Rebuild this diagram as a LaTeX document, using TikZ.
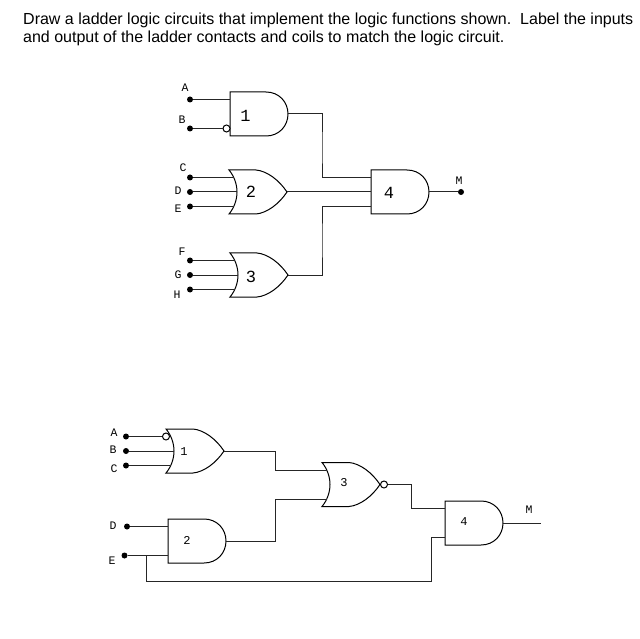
\documentclass[tikz,border=0pt]{standalone}
\usepackage{fontspec}
\setmainfont{Liberation Sans}
\setmonofont{Liberation Mono}
\tikzset{
  wire/.style={draw=black!85, line width=1pt},
  every edge/.style={wire},
  gateline/.style={draw=black, line width=1pt},
  andgate/.pic={
    \draw[gateline] (0,-22) -- (36,-22) .. controls (49,-22) and (58,-12) .. (58,0)
      .. controls (58,12) and (49,22) .. (36,22) -- (0,22) -- cycle;
    \coordinate (-i1) at (0,-14.5);
    \coordinate (-i2) at (0,0);
    \coordinate (-i3) at (0,14.5);
    \coordinate (-o) at (58,0);
  },
  orgate/.pic={
    \draw[gateline] (0,-22) -- (27,-22) .. controls (38,-21) and (50,-12) .. (58,0)
      .. controls (50,12) and (38,21) .. (27,22) -- (0,22)
      .. controls (5,16) and (8,8) .. (8,0) .. controls (8,-8) and (5,-16) .. (0,-22) -- cycle;
    \coordinate (-i1) at (5,-14.5);
    \coordinate (-i2) at (8,0);
    \coordinate (-i3) at (5,14.5);
    \coordinate (-o) at (58,0);
  }
}
\begin{document}
\begin{tikzpicture}[x=1pt,y=-1pt]
      \useasboundingbox (0,0) rectangle (640,639);

      \node[anchor=north west, inner sep=0pt, align=left, font=\fontsize{16}{17.8}\selectfont] (title) at (23,13)
        {Draw a ladder logic circuits that implement the logic functions shown.\ \ Label the inputs\\
         and output of the ladder contacts and coils to match the logic circuit.};

      % upper circuit
      \pic (u1) at (230,114) {andgate};
      \pic (u2) at (229,192) {orgate};
      \pic (u3) at (230,275) {orgate};
      \pic (u4) at (371,192) {andgate};

      % lower circuit
      \pic (l1) at (166,451) {orgate};
      \pic (l2) at (168,541) {andgate};
      \pic (l3) at (322,484.5) {orgate};
      \pic (l4) at (445,523) {andgate};

      \begin{scope}[every node/.style={circle,fill=black,inner sep=0pt,minimum size=6pt}]
        \node (ua) at (190,99.5) {};
        \node (ub) at (190,128.5) {};
        \node (uc) at (190,177.5) {};
        \node (ud) at (190,192) {};
        \node (ue) at (190,206.5) {};
        \node (uf) at (190,260.5) {};
        \node (ug) at (190,275) {};
        \node (uh) at (190,289.5) {};
        \node (um) at (461,192) {};
        \node (la) at (126,436.5) {};
        \node (lb) at (126,451) {};
        \node (lc) at (126,465.5) {};
        \node (ld) at (127,526.5) {};
        \node (le) at (124.5,555.5) {};
      \end{scope}

      \begin{scope}[every node/.style={circle,draw=black,fill=white,line width=1pt,inner sep=0pt,minimum size=7pt}]
        \node (nb) at (226.5,128.5) {};
        \node (na) at (166,436.5) {};
        \node (n3) at (384,484.5) {};
      \end{scope}

      \coordinate (bus1) at (322,150);
      \coordinate (bus2) at (322,240);
      \coordinate (bus3) at (275.5,460);
      \coordinate (bus4) at (275.5,520);
      \coordinate (bus5) at (411.7,495);
      \coordinate (lm) at (541,523);
      \coordinate (tap) at (146,555.5);
      \coordinate (low) at (431,581);

      \path (ua) edge (u1-i1);
      \path (ub) edge (nb);
      \path (uc) edge (u2-i1);
      \path (ud) edge (u2-i2);
      \path (ue) edge (u2-i3);
      \path (uf) edge (u3-i1);
      \path (ug) edge (u3-i2);
      \path (uh) edge (u3-i3);
      \path (u2-o) edge (u4-i2);
      \path (u4-o) edge (um);
      \draw[wire] (u1-o) -| (bus1) |- (u4-i1);
      \draw[wire] (u3-o) -| (bus2) |- (u4-i3);

      \path (la) edge (na);
      \path (lb) edge (l1-i2);
      \path (lc) edge (l1-i3);
      \path (ld) edge (l2-i1);
      \path (le) edge (l2-i3);
      \path (l4-o) edge (lm);
      \draw[wire] (l1-o) -| (bus3) |- (l3-i1);
      \draw[wire] (l2-o) -| (bus4) |- (l3-i3);
      \draw[wire] (n3) -| (bus5) |- (l4-i1);
      \draw[wire] (tap) |- (low) |- (l4-i3);

      \begin{scope}[every node/.style={font=\ttfamily\fontsize{11.5}{11.5}\selectfont, inner sep=0pt}]
        \node (ta) at (185,88) {A};
        \node (tb) at (182,120) {B};
        \node (tc) at (183,168) {C};
        \node (td) at (178,191) {D};
        \node (te) at (178,209) {E};
        \node (tf) at (182,252) {F};
        \node (tg) at (178,275) {G};
        \node (th) at (177,295) {H};
        \node (tm) at (459,181) {M};
        \node (sa) at (114,433) {A};
        \node (sb) at (113,450) {B};
        \node (sc) at (114,469) {C};
        \node (sd) at (113,526) {D};
        \node (se) at (112,561) {E};
        \node (sm) at (529,510) {M};
      \end{scope}

      \begin{scope}[every node/.style={font=\ttfamily\fontsize{17}{17}\selectfont, inner sep=0pt}]
        \node (d1) at (245.5,115.5) {1};
        \node (d2) at (251,192) {2};
        \node (d3) at (251,277) {3};
        \node (d4) at (389,192.5) {4};
      \end{scope}

      \begin{scope}[every node/.style={font=\ttfamily\fontsize{12}{12}\selectfont, inner sep=0pt}]
        \node (e1) at (184,452) {1};
        \node (e2) at (187,540) {2};
        \node (e3) at (344,483) {3};
        \node (e4) at (464,522) {4};
      \end{scope}

    \end{tikzpicture}
\end{document}
